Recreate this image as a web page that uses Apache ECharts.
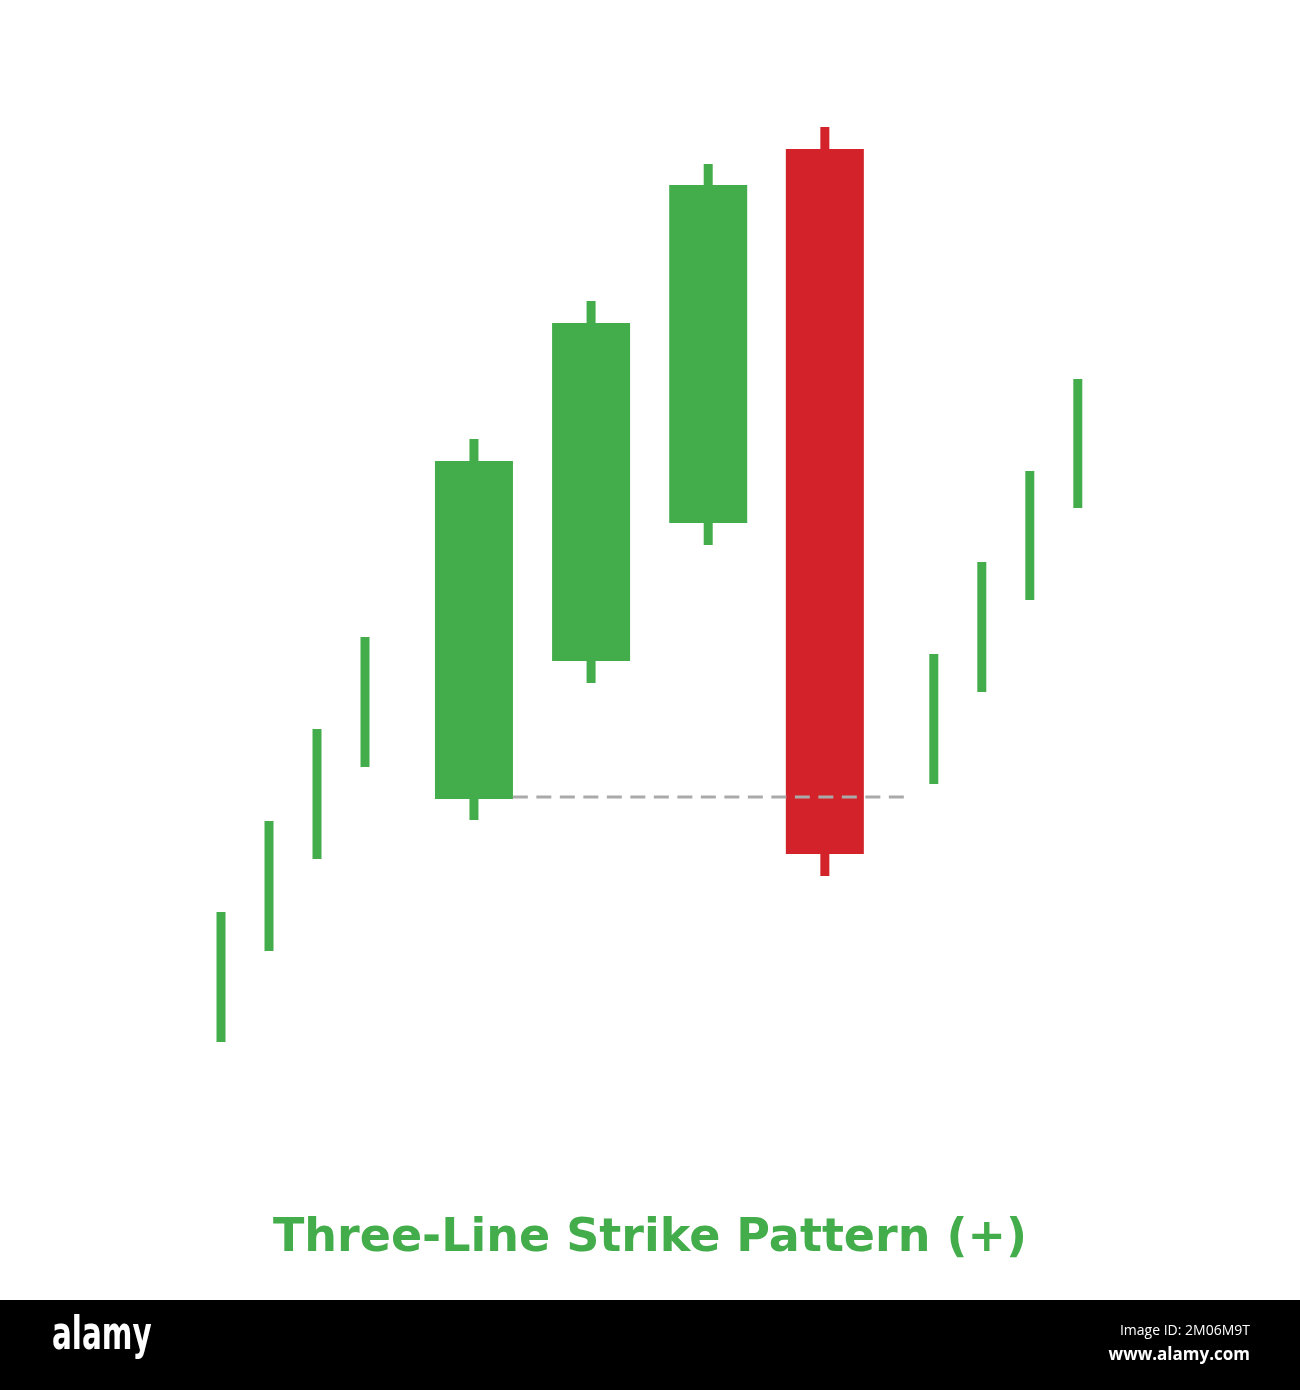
<!DOCTYPE html>
<html>
<head>
<meta charset="utf-8">
<script src="https://cdn.jsdelivr.net/npm/echarts@6/dist/echarts.min.js"></script>
<style>
  html, body { margin: 0; padding: 0; background: #ffffff; }
  #chart { width: 1300px; height: 1390px; }
</style>
</head>
<body>
<div id="chart"></div>
<script>
// ---- data ----
// trend lines before the pattern: [x, low, high]
const leadX     = [0, 1, 2, 3];
const leadLow   = [5.8, 14.9, 24.1, 33.3];
const leadHigh  = [18.8, 27.9, 37.1, 46.3];

// pattern candles: [x, open, close, low, high]
const candleX     = [5.27, 7.71, 10.15, 12.58];
const candleOpen  = [30.1, 43.9, 57.7, 95.1];
const candleClose = [63.9, 77.7, 91.5, 24.6];
const candleLow   = [28.0, 41.7, 55.5, 22.4];
const candleHigh  = [66.1, 79.9, 93.6, 97.3];

// trend lines after the pattern
const trailX    = [14.85, 15.85, 16.85, 17.85];
const trailLow  = [31.6, 40.8, 50.0, 59.2];
const trailHigh = [44.6, 53.8, 62.9, 72.1];

// reference (dashed) level: first candle open, extended
const refLevel = 30.3;
const refFromX = 6.08;
const refToX   = 14.25;

const titleText = 'Three-Line Strike Pattern (+)';

// ---- styles ----
const GREEN = '#43ad4b';
const RED = '#d3222a';

const lineData = leadX.map((x, i) => [x, leadLow[i], leadHigh[i]])
  .concat(trailX.map((x, i) => [x, trailLow[i], trailHigh[i]]));
const candleData = candleX.map((x, i) => [x, candleOpen[i], candleClose[i], candleLow[i], candleHigh[i]]);

function renderLine(params, api) {
  const x = api.value(0);
  const pL = api.coord([x, api.value(1)]);
  const pH = api.coord([x, api.value(2)]);
  const w = 9;
  return {
    type: 'rect',
    shape: { x: pL[0] - w / 2, y: pH[1], width: w, height: pL[1] - pH[1] },
    style: { fill: GREEN }
  };
}

function renderCandle(params, api) {
  const x = api.value(0);
  const open = api.value(1), close = api.value(2);
  const pO = api.coord([x, open]);
  const pC = api.coord([x, close]);
  const pL = api.coord([x, api.value(3)]);
  const pH = api.coord([x, api.value(4)]);
  const bw = 78, ww = 9;
  const color = close >= open ? GREEN : RED;
  const top = Math.min(pO[1], pC[1]);
  const bot = Math.max(pO[1], pC[1]);
  return {
    type: 'group',
    children: [
      { type: 'rect', shape: { x: pO[0] - ww / 2, y: pH[1], width: ww, height: pL[1] - pH[1] }, style: { fill: color } },
      { type: 'rect', shape: { x: pO[0] - bw / 2, y: top, width: bw, height: bot - top }, style: { fill: color } }
    ]
  };
}

const chart = echarts.init(document.getElementById('chart'), null, { renderer: 'canvas' });
chart.setOption({
  backgroundColor: '#ffffff',
  animation: false,
  title: {
    text: titleText,
    left: 'center',
    top: 1211,
    textStyle: {
      color: GREEN,
      fontSize: 46,
      fontWeight: 'bold',
      fontFamily: 'DejaVu Sans, sans-serif'
    }
  },
  grid: { left: 0, top: 0, width: 1300, height: 1100, containLabel: false },
  xAxis: { type: 'value', min: -4.604, max: 22.479, show: false },
  yAxis: { type: 'value', min: 0, max: 110, show: false },
  series: [
    { type: 'custom', name: 'trend', renderItem: renderLine, data: lineData, z: 2 },
    { type: 'custom', name: 'pattern', renderItem: renderCandle, data: candleData, z: 2 },
    {
      type: 'line', name: 'ref', data: [[refFromX, refLevel], [refToX, refLevel]],
      symbol: 'none', z: 5,
      lineStyle: { color: '#aaaaaa', width: 3, type: [15, 8.5] }
    }
  ],
  graphic: [
    { type: 'rect', left: 0, top: 1300, shape: { width: 1300, height: 90 }, style: { fill: '#000000' }, z: 10 },
    {
      type: 'text', x: 52, y: 1314, scaleX: 0.64, z: 11,
      style: { text: 'alamy', fill: '#ffffff', font: 'bold 46px "DejaVu Sans", sans-serif' }
    },
    {
      type: 'text', right: 50, top: 1324, z: 11,
      style: { text: 'Image ID: 2M06M9T', fill: '#ffffff', font: '14px "Open Sans", sans-serif' }
    },
    {
      type: 'text', right: 50, top: 1347, z: 11,
      style: { text: 'www.alamy.com', fill: '#ffffff', font: 'bold 17px "Open Sans", sans-serif' }
    }
  ]
});
</script>
</body>
</html>
